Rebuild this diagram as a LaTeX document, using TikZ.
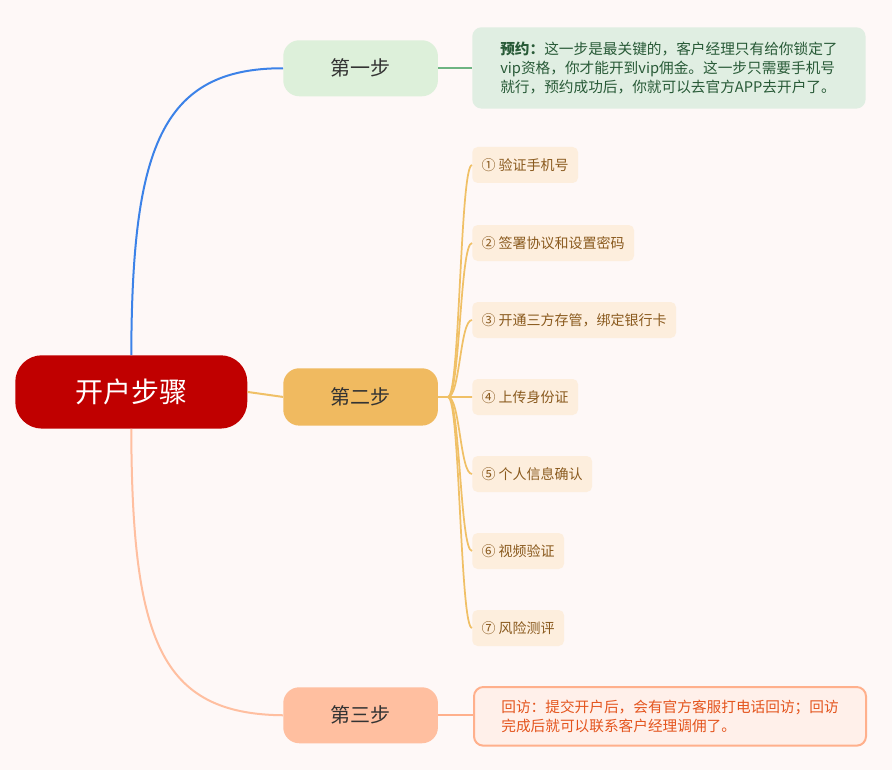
\documentclass[tikz,border=0pt]{standalone}
\usepackage{fontspec}
\setmainfont{Noto Sans CJK SC}
\definecolor{bg}{HTML}{FEF8F7}
\definecolor{itemfill}{HTML}{FDEEDD}
\definecolor{itemtext}{HTML}{8A5A1E}
\definecolor{orangeline}{HTML}{F0C066}
\definecolor{rootred}{HTML}{C00000}
\definecolor{s1fill}{RGB}{221,240,218}
\definecolor{s2fill}{RGB}{240,186,96}
\definecolor{s3fill}{RGB}{255,191,160}
\definecolor{blueline}{RGB}{60,130,232}
\definecolor{n1fill}{RGB}{224,238,226}
\definecolor{n1text}{RGB}{40,90,55}
\definecolor{greenline}{RGB}{110,180,130}
\definecolor{n3fill}{RGB}{255,240,234}
\definecolor{n3line}{RGB}{255,176,140}
\definecolor{n3text}{RGB}{228,85,30}
\begin{document}
\begin{tikzpicture}[x=0.75pt,y=-0.75pt,
 box/.style={rounded corners=7pt,inner sep=0pt,anchor=north west},
 stepnode/.style={box,rounded corners=12pt,font=\fontsize{15}{18}\selectfont,text=black!80},
 item/.style={rounded corners=4pt,fill=itemfill,text=itemtext,font=\fontsize{10.5}{13}\selectfont,anchor=west,minimum height=27pt,inner xsep=7pt},
 trunk/.style={draw=orangeline,line width=1.3pt}]
\fill[bg] (0,0) rectangle (892,770);
\useasboundingbox (0,0) rectangle (892,770);
\node[box,fill=rootred,rounded corners=20pt,minimum width=174pt,minimum height=55pt,text=white,font=\fontsize{21}{25}\selectfont] (root) at (15,355) {开户步骤};
\node[stepnode,fill=s1fill,minimum width=116pt,minimum height=42pt] (s1) at (283,40) {第一步};
\node[stepnode,fill=s2fill,minimum width=116pt,minimum height=43pt] (s2) at (283,368) {第二步};
\node[stepnode,fill=s3fill,minimum width=116pt,minimum height=42pt] (s3) at (283,687) {第三步};
\draw[draw=blueline,line width=1.5pt] (root.north) .. controls (132,150) and (160,68) .. (s1.west);
\draw[trunk,line width=1.5pt] (root.east) -- (s2.west);
\draw[draw=s3fill,line width=1.5pt] (root.south) .. controls (132,640) and (160,714) .. (s3.west);
\node[box,fill=n1fill,text=n1text,minimum width=295pt,minimum height=61pt,align=left,font=\fontsize{11}{14.5}\selectfont,inner xsep=9pt] (n1) at (472,27) {\textbf{预约：}这一步是最关键的，客户经理只有给你锁定了\\vip资格，你才能开到vip佣金。这一步只需要手机号\\就行，预约成功后，你就可以去官方APP去开户了。};
\draw[draw=greenline,line width=1.5pt] (s1.east) -- (n1.west|-s1.east);
\node[box,fill=n3fill,draw=n3line,line width=1.5pt,text=n3text,minimum width=294pt,minimum height=44pt,align=left,font=\fontsize{11}{14.5}\selectfont,inner xsep=9pt] (n3) at (473,686) {回访：提交开户后，会有官方客服打电话回访；回访\\完成后就可以联系客户经理调佣了。};
\draw[draw=n3line,line width=1.5pt] (s3.east) -- (n3.west|-s3.east);
\foreach \i/\y/\t in {1/165/① 验证手机号,2/243/② 签署协议和设置密码,3/320/③ 开通三方存管，绑定银行卡,4/397/④ 上传身份证,5/474/⑤ 个人信息确认,6/551/⑥ 视频验证,7/628/⑦ 风险测评}{
 \node[item] (i\i) at (472,\y) {\t};
 \draw[trunk] (s2.east) -- (448,397) .. controls (460,397) and (460,\y) .. (i\i.west);
}
\end{tikzpicture}
\end{document}
